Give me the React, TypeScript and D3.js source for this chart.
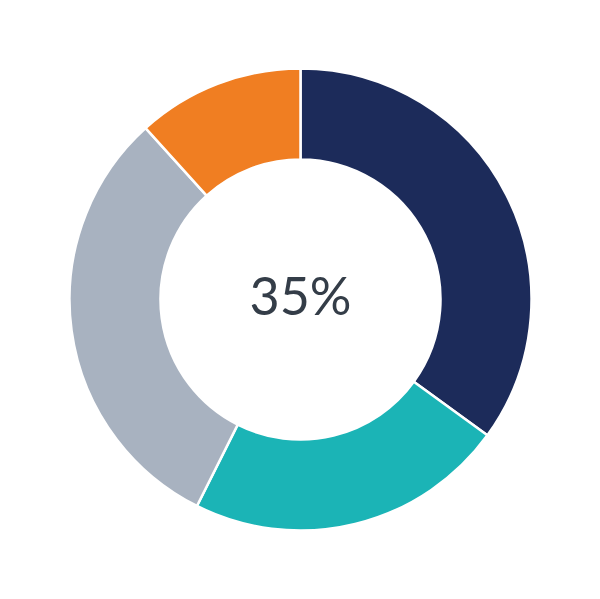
import * as d3 from "d3";
import React from "react";

const labels = ["A", "B", "C", "D"];
const values = [35, 22.4, 30.9, 11.7];
const colors = ["#1c2b5a", "#1bb4b6", "#a8b2c0", "#f07e22"];
const centerLabel = "35%";

const width = 600;
const height = 599;

export default function App() {
  const pie = d3.pie<number>().sort(null).value(d => d);
  const arcs = pie(values);
  const arcGen = d3.arc<d3.PieArcDatum<number>>().innerRadius(140).outerRadius(231);

  return (
    <svg
      width={width}
      height={height}
      style={{ position: "absolute", left: 0, top: 0, background: "#fff" }}
    >
      <g transform={`translate(300.5, 299.5)`}>
        {arcs.map((a, i) => (
          <path
            key={labels[i]}
            d={arcGen(a) || ""}
            fill={colors[i]}
            stroke="#fff"
            strokeWidth={2.5}
          />
        ))}
        <text
          y={15}
          textAnchor="middle"
          fontFamily="Lato"
          fontSize={52}
          fontWeight={400}
          fill="#343d48"
        >
          {centerLabel}
        </text>
      </g>
    </svg>
  );
}
